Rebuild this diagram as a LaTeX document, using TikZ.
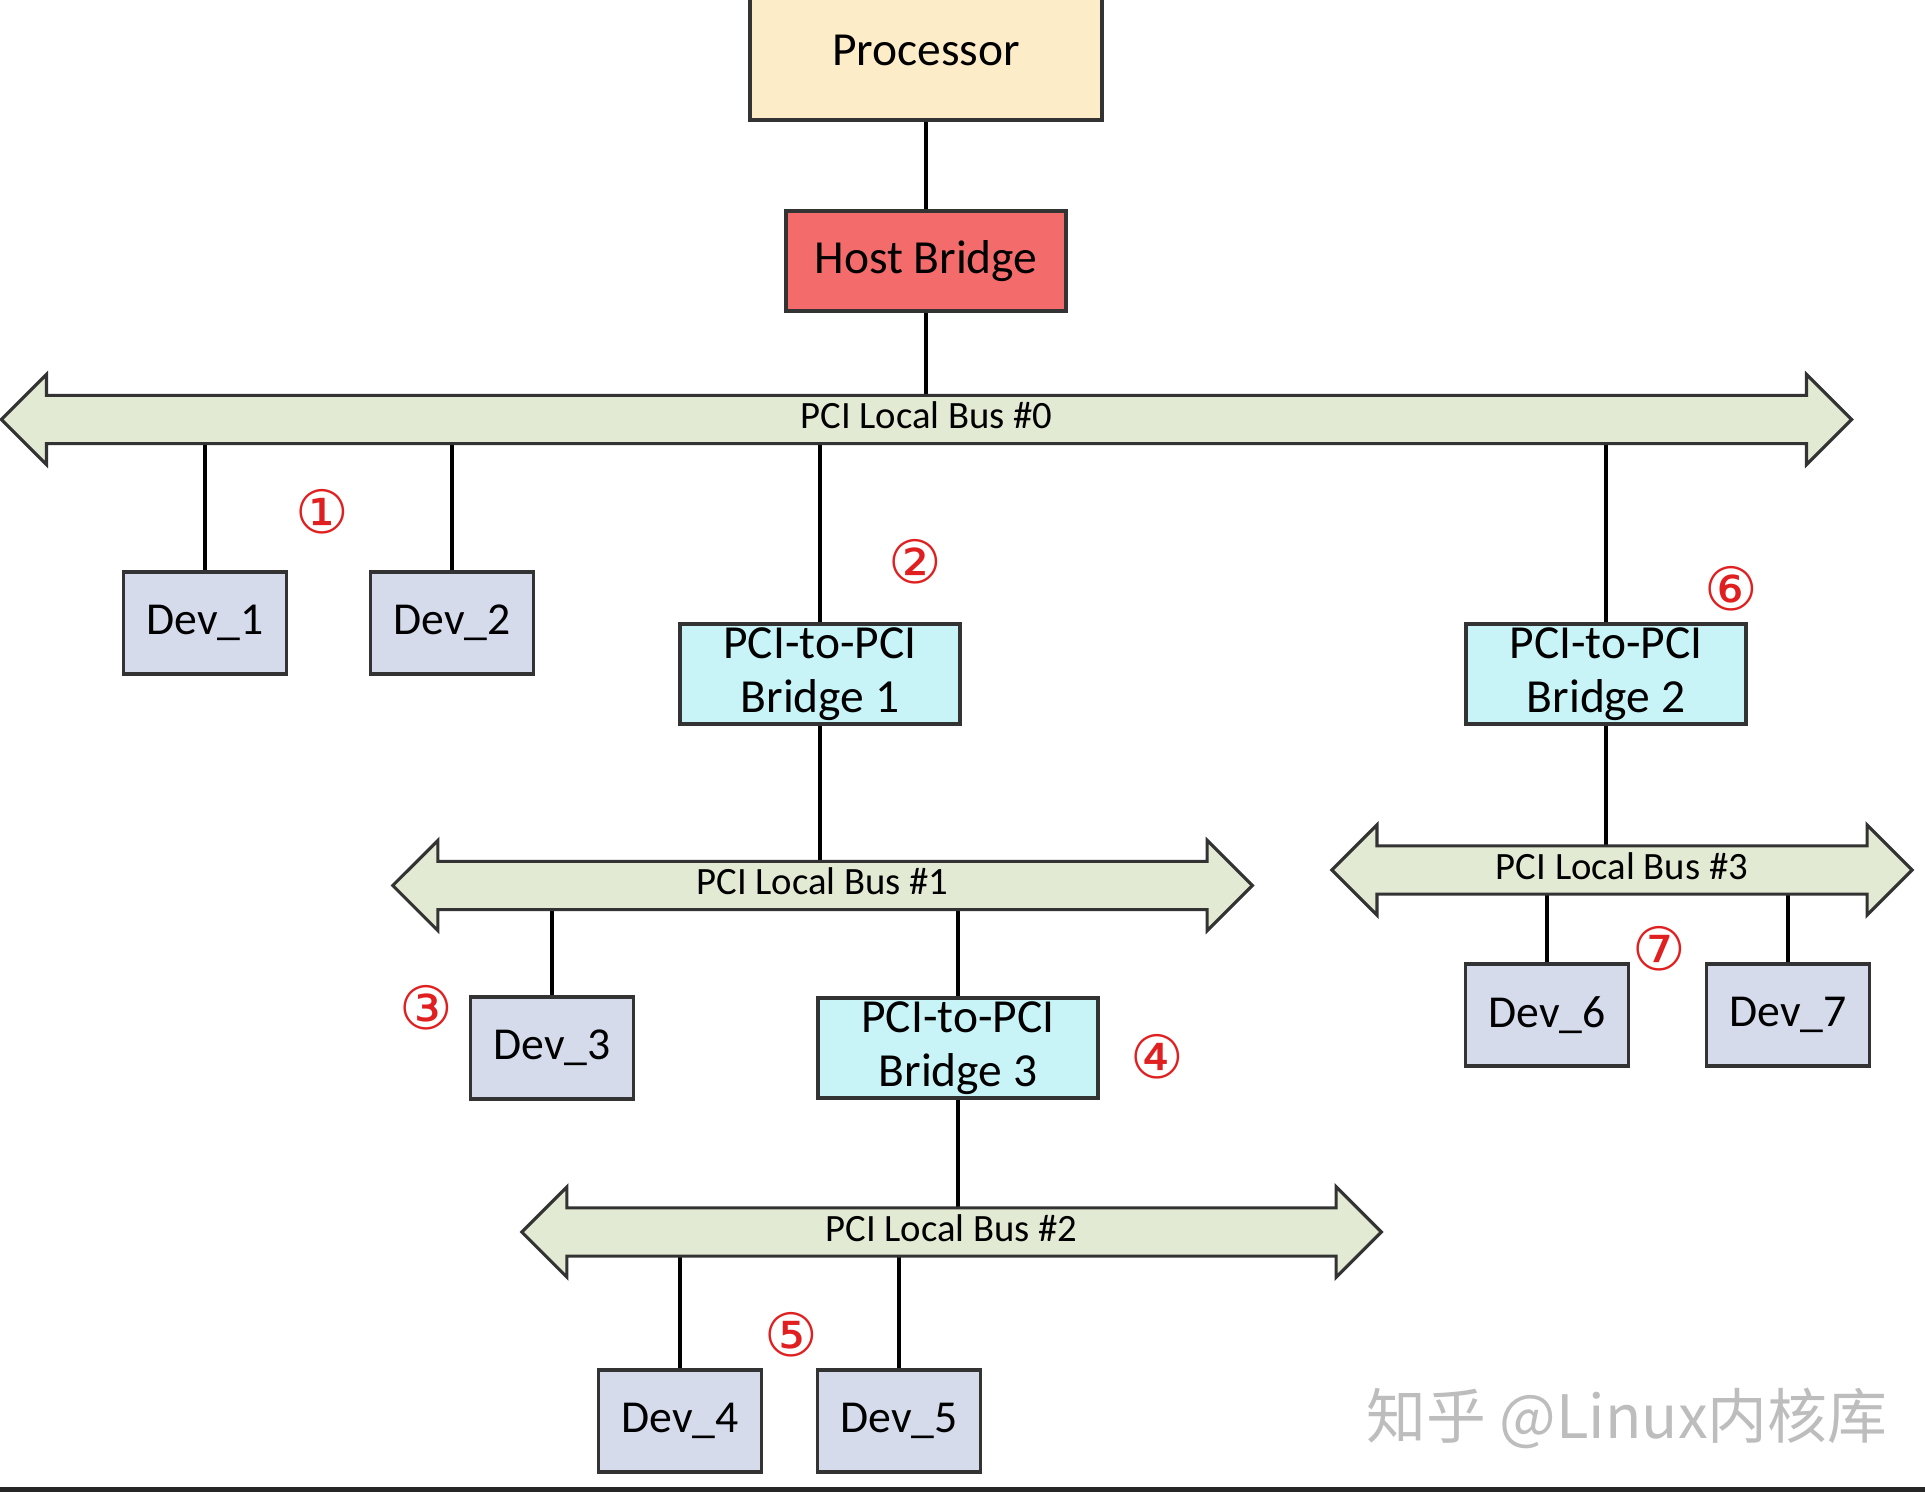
\documentclass[tikz,border=0pt]{standalone}
\usepackage{fontspec}
\setmainfont{Carlito}
\newfontfamily\cjkfont{Noto Sans CJK SC}
\newfontfamily\circfont{DejaVu Sans}
\usepackage{tikz}
\usetikzlibrary{shapes.arrows, backgrounds}
\definecolor{procfill}{HTML}{FDECC8}
\definecolor{hostfill}{HTML}{F46B6B}
\definecolor{bridgefill}{HTML}{C8F4F8}
\definecolor{devfill}{HTML}{D5DBEB}
\definecolor{busfill}{HTML}{E2EAD3}
\definecolor{boxline}{HTML}{333333}
\definecolor{markred}{HTML}{E02020}
\definecolor{wmgray}{HTML}{BDBDBD}
\tikzset{
  unit/.style={draw=boxline, line width=1pt, inner sep=0pt, font=\fontsize{13.5}{15.5}\selectfont},
  devbox/.style={unit, fill=devfill, minimum width=1.63cm, minimum height=1.02cm, font=\fontsize{13}{15}\selectfont},
  bridgebox/.style={unit, fill=bridgefill, minimum width=2.80cm, minimum height=1.00cm, align=center},
  bus/.style={double arrow, draw=boxline, line width=0.9pt, fill=busfill,
    double arrow head extend=0.21cm, double arrow tip angle=90,
    text height=0.25cm, text depth=0.07cm, inner ysep=0.065cm, inner xsep=0pt,
    font=\fontsize{11}{11}\selectfont},
  marker/.style={text=markred, inner sep=0pt, font=\circfont\fontsize{17}{17}\selectfont},
  wire/.style={draw=black, line width=1.2pt}
}

\begin{document}
\begin{tikzpicture}[x=0.01cm, y=-0.01cm]
    \useasboundingbox (0,0) rectangle (1925,1492);
    % top
    \node[unit, fill=procfill, minimum width=3.52cm, minimum height=1.40cm] (proc) at (926,50) {Processor};
    \node[unit, fill=hostfill, minimum width=2.80cm, minimum height=1.00cm] (host) at (926,261) {Host Bridge};
    % buses
    \node[bus, minimum height=18.49cm] (bus0) at (926.5,419.5) {PCI Local Bus \#0};
    \node[bus, minimum height=8.59cm] (bus1) at (822.5,885.5) {PCI Local Bus \#1};
    \node[bus, minimum height=8.59cm] (bus2) at (951.5,1232) {PCI Local Bus \#2};
    \node[bus, minimum height=5.80cm] (bus3) at (1622,870) {PCI Local Bus \#3};
    % bridges
    \node[bridgebox] (br1) at (820,674) {PCI-to-PCI\\Bridge 1};
    \node[bridgebox] (br2) at (1606,674) {PCI-to-PCI\\Bridge 2};
    \node[bridgebox] (br3) at (958,1048) {PCI-to-PCI\\Bridge 3};
    % devices
    \node[devbox] (dev1) at (205,623) {Dev\_1};
    \node[devbox] (dev2) at (452,623) {Dev\_2};
    \node[devbox] (dev3) at (552,1048) {Dev\_3};
    \node[devbox] (dev4) at (680,1421) {Dev\_4};
    \node[devbox] (dev5) at (899,1421) {Dev\_5};
    \node[devbox] (dev6) at (1547,1015) {Dev\_6};
    \node[devbox] (dev7) at (1788,1015) {Dev\_7};
    % numbered marks
    \node[marker] (m1) at (322,512) {①};
    \node[marker] (m2) at (915,562) {②};
    \node[marker] (m3) at (426,1008) {③};
    \node[marker] (m4) at (1157,1057) {④};
    \node[marker] (m5) at (791,1335) {⑤};
    \node[marker] (m6) at (1731,589) {⑥};
    \node[marker] (m7) at (1659,949) {⑦};
    % connectors behind the buses
    \begin{scope}[on background layer]
      \draw[wire] (proc) -- (host);
      \foreach \n in {host, dev1, dev2, br1, br2}
        \draw[wire] (\n) -- (\n |- bus0.center);
      \foreach \n in {dev3, br3}
        \draw[wire] (\n) -- (\n |- bus1.center);
      \draw[wire] (br1) -- (br1 |- bus1.center);
      \foreach \n in {dev4, dev5, br3}
        \draw[wire] (\n) -- (\n |- bus2.center);
      \foreach \n in {dev6, dev7, br2}
        \draw[wire] (\n) -- (\n |- bus3.center);
    \end{scope}
    % watermark
    \node[text=wmgray, font=\cjkfont\fontsize{17}{17}\selectfont] (wm) at (1627,1418) {知乎 @Linux内核库};
    \fill[black!85] (0,1487) rectangle (1925,1492);
  \end{tikzpicture}
\end{document}
